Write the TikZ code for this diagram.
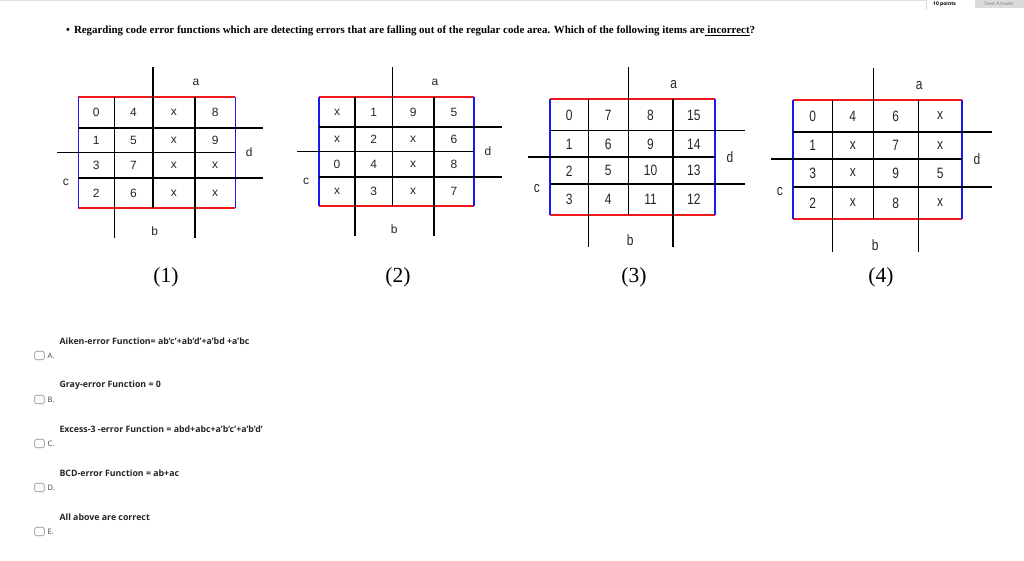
\documentclass[tikz,border=0pt]{standalone}
\usepackage{graphicx}
\usepackage{fontspec}
\setmainfont{Liberation Serif}
\newfontfamily\arialf{Liberation Sans}
\newfontfamily\osans{Open Sans}
\definecolor{kred}{RGB}{240,25,25}
\definecolor{kblue}{RGB}{25,25,240}
\definecolor{optgray}{RGB}{60,60,60}
\tikzset{
  kline/.style={black, line width=1.6pt},
  kredline/.style={kred, line width=1.6pt},
  kblueline/.style={kblue, line width=1.6pt},
  cell/.style={font=\arialf\fontsize{12}{13}\selectfont, inner sep=0pt, text=black!85},
  klab/.style={font=\arialf\fontsize{12}{13}\selectfont, inner sep=0pt, text=black!85},
  capt/.style={font=\fontsize{21.5}{24}\selectfont, inner sep=0pt},
  opt/.style={font=\osans\bfseries\fontsize{8.8}{10}\selectfont, anchor=west, inner sep=0pt, text=black!85},
  optl/.style={font=\osans\fontsize{7.5}{8}\selectfont, anchor=west, inner sep=0pt, text=optgray},
  cbox/.style={draw=black!45, rounded corners=1.5pt, minimum width=9.5pt, minimum height=8.5pt, inner sep=0pt, line width=0.6pt},
}
\newcommand\kmap[6][1]{%
  \def\kX{{#3}}\def\kY{{#4}}\def\kE{{#5}}%
  \pgfmathsetmacro\kxa{\kX[0]}\pgfmathsetmacro\kxb{\kX[1]}\pgfmathsetmacro\kxc{\kX[2]}\pgfmathsetmacro\kxd{\kX[3]}\pgfmathsetmacro\kxe{\kX[4]}%
  \pgfmathsetmacro\kya{\kY[0]}\pgfmathsetmacro\kyb{\kY[1]}\pgfmathsetmacro\kyc{\kY[2]}\pgfmathsetmacro\kyd{\kY[3]}\pgfmathsetmacro\kye{\kY[4]}%
  \pgfmathsetmacro\kAt{\kE[0]}\pgfmathsetmacro\kBb{\kE[1]}\pgfmathsetmacro\kDr{\kE[2]}\pgfmathsetmacro\kCl{\kE[3]}%
  \draw[kredline] (\kxa,\kya) -- (\kxe,\kya) (\kxa,\kye) -- (\kxe,\kye);
  \draw[kblueline] (\kxa,\kya) -- (\kxa,\kye) (\kxe,\kya) -- (\kxe,\kye);
  \draw[kline] (\kxb,\kya) -- (\kxb,\kBb) (\kxd,\kya) -- (\kxd,\kBb) (\kxc,\kAt) -- (\kxc,\kye)
    (\kxa,\kyb) -- (\kDr,\kyb) (\kxa,\kyd) -- (\kDr,\kyd) (\kCl,\kyc) -- (\kxe,\kyc);
  \node[klab] (#2a) at (\kxd+1,\kya-14.5) {\scalebox{1}[#1]{a}};
  \node[klab] (#2b) at (\kxc+2,\kBb-7) {\scalebox{1}[#1]{b}};
  \node[klab] (#2c) at ({(\kCl+\kxa)/2-2},\kyd+4.5) {\scalebox{1}[#1]{c}};
  \node[klab] (#2d) at ({(\kxe+\kDr)/2},\kyc) {\scalebox{1}[#1]{d}};
  \foreach \t [count=\n from 0] in {#6}{%
    \pgfmathtruncatemacro\kr{int(\n/4)}\pgfmathtruncatemacro\kc{mod(\n,4)}%
    \pgfmathtruncatemacro\krn{\kr+1}\pgfmathtruncatemacro\kcn{\kc+1}%
    \pgfmathsetmacro\kcxa{\kX[\kc]}\pgfmathsetmacro\kcxb{\kX[\kcn]}%
    \pgfmathsetmacro\kcya{\kY[\kr]}\pgfmathsetmacro\kcyb{\kY[\krn]}%
    \pgfmathsetmacro\kcx{(\kcxa+\kcxb)/2}\pgfmathsetmacro\kcy{(\kcya+\kcyb)/2}%
    \node[cell] (#2-\kr-\kc) at (\kcx,\kcy) {\scalebox{1}[#1]{\t}};}%
}
\begin{document}
\begin{tikzpicture}[x=1pt,y=-1pt]
\useasboundingbox (0,0) rectangle (1024,561);
\fill[white] (0,0) rectangle (1024,561);
% top bar fragments
\draw[black!12, line width=1.5pt] (0,0.75) -- (926,0.75);
\draw[black!15, line width=0.8pt] (926,0) -- (926,10);
\fill[black!14] (975,0) rectangle (1024,8);
\node[anchor=base west, inner sep=0pt, font=\osans\bfseries\fontsize{5}{6}\selectfont] (pts) at (933,6) {10 points};
\node[anchor=base west, inner sep=0pt, font=\osans\fontsize{5}{6}\selectfont, text=black!50] (save) at (984,6) {Save Answer};
% question
\node[anchor=base west, inner sep=0pt, font=\bfseries\fontsize{10.9}{12}\selectfont] (q) at (66,34)
  {\textbullet\hspace{4pt}Regarding code error functions which are detecting errors that are falling out of the regular code area. Which of the following items are\underline{\ incorrect}?};
% K-maps
\kmap{m1}{78.3,114.3,152.7,195,235.3}{97.3,128,152.7,178.3,208.3}{67.3,238,263,57.3}{0,4,x,8,1,5,x,9,3,7,x,x,2,6,x,x}
\kmap{m2}{319,355,392.3,434,474}{97,127.3,151.7,177.3,206}{67,236,502,297.3}{x,1,9,5,x,2,x,6,0,4,x,8,x,3,x,7}
\kmap[1.25]{m3}{550,588.3,628.3,672.7,715}{99.3,130.7,157.3,184.3,215}{67.3,246.7,745,527.7}{0,7,8,15,1,6,9,14,2,5,10,13,3,4,11,12}
\kmap[1.25]{m4}{793,832.3,873.3,918.3,962}{100,132,159,187,219}{68.3,251.7,991.7,770.7}{0,4,6,x,1,x,7,x,3,x,9,5,2,x,8,x}
% captions
\node[capt] (cap1) at (166,277) {(1)};
\node[capt] (cap2) at (398,277) {(2)};
\node[capt] (cap3) at (634,277) {(3)};
\node[capt] (cap4) at (881,277) {(4)};
% options
\foreach \k/\txt/\lt in {0/{Aiken-error Function= ab’c’+ab’d’+a’bd +a’bc}/A.,
                         1/{Gray-error Function = 0}/B.,
                         2/{Excess-3 -error Function = abd+abc+a’b’c’+a’b’d’}/C.,
                         3/{BCD-error Function = ab+ac}/D.,
                         4/{All above are correct}/E.}{
  \node[opt] (opt\k) at (59.3,341+44*\k) {\txt};
  \node[cbox] (box\k) at (39.5,355.5+44*\k) {};
  \node[optl] (let\k) at (47.5,356+44*\k) {\lt};
}
\end{tikzpicture}
\end{document}
